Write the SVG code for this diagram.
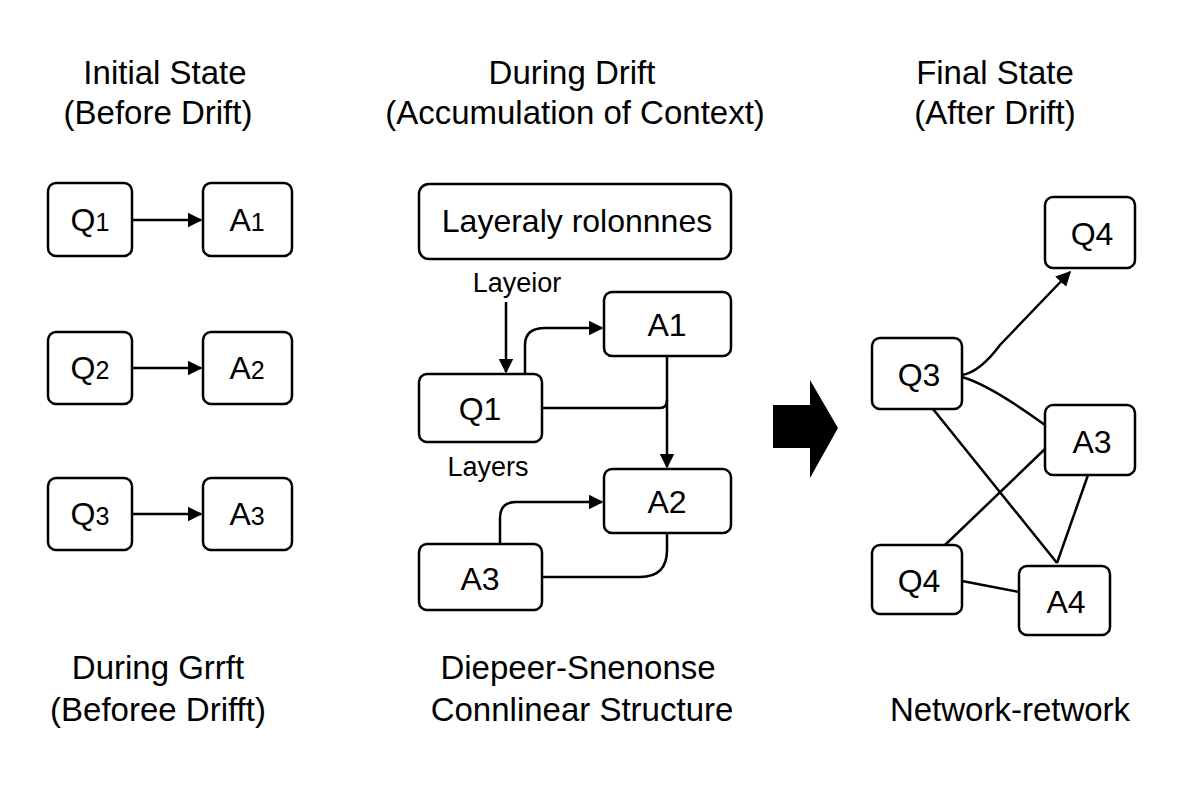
<svg xmlns="http://www.w3.org/2000/svg" width="1200" height="800" viewBox="0 0 1200 800">
<defs>
<marker id="ah" viewBox="0 0 10 10" refX="9" refY="5" markerWidth="6" markerHeight="6" orient="auto"><path d="M0,0 L10,5 L0,10 z" fill="#000"/></marker>
<style>
.b{fill:#fff;stroke:#000;stroke-width:2.5}
.t{font-family:"Liberation Sans",Arial,sans-serif;fill:#000;text-anchor:middle}
.h{font-size:33px}
.n{font-size:32px}
.s{font-size:27px}
.c{fill:none;stroke:#000;stroke-width:2.5}
</style>
</defs>
<rect width="1200" height="800" fill="#fff"/>
<g class="t h">
<text x="165" y="84">Initial State</text><text x="158" y="124">(Before Drift)</text>
<text x="572" y="84">During Drift</text><text x="575" y="124">(Accumulation of Context)</text>
<text x="995" y="84">Final State</text><text x="995" y="124">(After Drift)</text>
<text x="158" y="679">During Grrft</text><text x="158" y="721">(Beforee Drifft)</text>
<text x="578" y="679">Diepeer-Snenonse</text><text x="582" y="721">Connlinear Structure</text>
<text x="1010" y="721">Network-retwork</text>
</g>
<g id="connectors">
<line class="c" x1="132" y1="220" x2="201" y2="220" marker-end="url(#ah)"/>
<line class="c" x1="132" y1="368" x2="201" y2="368" marker-end="url(#ah)"/>
<line class="c" x1="132" y1="514" x2="201" y2="514" marker-end="url(#ah)"/>
<line class="c" x1="506" y1="302" x2="506" y2="372" marker-end="url(#ah)"/>
<path class="c" d="M525,374 L525,345 Q525,328 545,328 L602,328" marker-end="url(#ah)"/>
<path class="c" d="M542,408 L660,408 Q667,408 667,400"/>
<line class="c" x1="667" y1="356" x2="667" y2="467" marker-end="url(#ah)"/>
<path class="c" d="M500,544 L500,518 Q500,502 516,502 L602,502" marker-end="url(#ah)"/>
<path class="c" d="M542,577 L640,577 Q667,577 667,550 L667,533"/>
<path class="c" d="M962,375 Q980,372 1000,345 L1070,272" marker-end="url(#ah)"/>
<path class="c" d="M962,377 Q990,385 1045,425"/>
<line class="c" x1="933" y1="409" x2="1057" y2="563"/>
<line class="c" x1="945" y1="545" x2="1045" y2="449"/>
<line class="c" x1="1088" y1="475" x2="1057" y2="563"/>
<line class="c" x1="962" y1="581" x2="1019" y2="592"/>
<polygon points="773,405 810,405 810,380 838,428 810,478 810,448 773,448" fill="#000"/>
</g>
<g id="l-q1"><rect class="b" x="48" y="183" width="84" height="73" rx="8"/><text class="t n" x="90" y="231">Q<tspan font-size="25">1</tspan></text></g>
<g id="l-a1"><rect class="b" x="203" y="183" width="89" height="73" rx="8"/><text class="t n" x="247" y="231">A<tspan font-size="25">1</tspan></text></g>
<g id="l-q2"><rect class="b" x="48" y="332" width="84" height="72" rx="8"/><text class="t n" x="90" y="379">Q<tspan font-size="25">2</tspan></text></g>
<g id="l-a2"><rect class="b" x="203" y="332" width="89" height="72" rx="8"/><text class="t n" x="247" y="379">A<tspan font-size="25">2</tspan></text></g>
<g id="l-q3"><rect class="b" x="48" y="478" width="84" height="72" rx="8"/><text class="t n" x="90" y="525">Q<tspan font-size="25">3</tspan></text></g>
<g id="l-a3"><rect class="b" x="203" y="478" width="89" height="72" rx="8"/><text class="t n" x="247" y="525">A<tspan font-size="25">3</tspan></text></g>
<g id="m-top"><rect class="b" x="419" y="184" width="312" height="75" rx="10"/><text class="t n" x="577" y="232">Layeraly rolonnnes</text></g>
<text class="t s" x="517" y="292">Layeior</text>
<text class="t s" x="488" y="476">Layers</text>
<g id="m-q1"><rect class="b" x="419" y="374" width="123" height="68" rx="8"/><text class="t n" x="480" y="420">Q1</text></g>
<g id="m-a1"><rect class="b" x="604" y="292" width="127" height="64" rx="8"/><text class="t n" x="667" y="336">A1</text></g>
<g id="m-a2"><rect class="b" x="604" y="469" width="127" height="64" rx="8"/><text class="t n" x="667" y="513">A2</text></g>
<g id="m-a3"><rect class="b" x="419" y="544" width="123" height="66" rx="8"/><text class="t n" x="480" y="590">A3</text></g>
<g id="r-q4t"><rect class="b" x="1045" y="197" width="90" height="71" rx="8"/><text class="t n" x="1092" y="245">Q4</text></g>
<g id="r-q3"><rect class="b" x="872" y="338" width="90" height="71" rx="8"/><text class="t n" x="919" y="386">Q3</text></g>
<g id="r-a3"><rect class="b" x="1045" y="405" width="90" height="70" rx="8"/><text class="t n" x="1092" y="453">A3</text></g>
<g id="r-q4"><rect class="b" x="872" y="545" width="90" height="69" rx="8"/><text class="t n" x="919" y="592">Q4</text></g>
<g id="r-a4"><rect class="b" x="1019" y="566" width="91" height="69" rx="8"/><text class="t n" x="1066" y="613">A4</text></g>
</svg>
